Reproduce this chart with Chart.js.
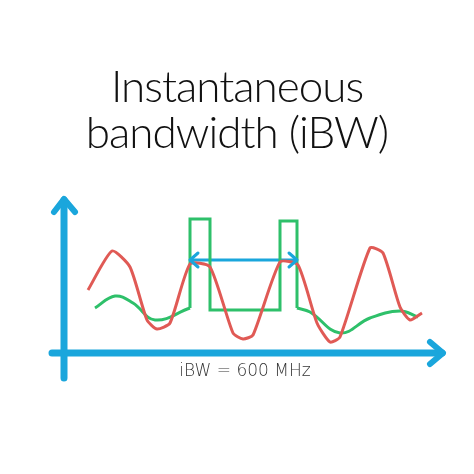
<!DOCTYPE html><html><head><script src="https://cdn.jsdelivr.net/npm/chart.js@4/dist/chart.umd.min.js"></script>
<style>body{margin:0;background:#fff;font-family:Lato,sans-serif}#w{position:relative;width:474px;height:474px}
.t{position:absolute;left:0;width:474px;text-align:center;color:#111;font-weight:300}
</style></head><body><div id="w"><canvas id="c" width="474" height="474"></canvas>
<div class="t" style="top:62px;font-size:44px;line-height:46px;letter-spacing:-1px">Instantaneous<br>bandwidth (iBW)</div>
<div class="t" style="top:360px;left:40px;width:410px;font-size:17px;color:#333;font-family:'DejaVu Sans'">iBW = 600 MHz</div></div>
<script>
const redX=[88,112,130,147,157,170,190,210,233,243,253,280,298,317,330,340,370,383,400,410,422];
const redY=[290,251,267,320,329,323,264,267,333,339,335,262,265,323,342,337,248,253,307,320,313];
const greenX=[95,115,133,155,190,190,210,210,280,280,297,297,310,340,370,400,418];
const greenY=[308,296,303,320,308,219,219,310,310,221,221,308,312,333,318,311,317];
const arrowX=[190,297], arrowY=[260,260];
const B=390;
const pts=(xs,ys,a=0,b=xs.length)=>xs.slice(a,b).map((x,i)=>({x,y:B-ys[a+i]}));
const axes={id:'ax',afterDatasetsDraw(ch){const c=ch.ctx,xs=ch.scales.x,ys=ch.scales.y;const X=v=>xs.getPixelForValue(v),Y=v=>ys.getPixelForValue(B-v);
c.save();c.strokeStyle='#1aa6dc';c.lineCap='round';c.lineJoin='round';c.lineWidth=7;
c.beginPath();c.moveTo(X(64),Y(378));c.lineTo(X(64),Y(200));c.moveTo(X(52),Y(353));c.lineTo(X(442),Y(353));c.stroke();
c.lineWidth=6;c.beginPath();c.moveTo(X(54),Y(212));c.lineTo(X(64),Y(199));c.lineTo(X(75),Y(212));
c.moveTo(X(430),Y(342));c.lineTo(X(443),Y(353));c.lineTo(X(430),Y(364));c.stroke();
c.lineWidth=3;c.beginPath();c.moveTo(X(arrowX[0]+8),Y(253));c.lineTo(X(arrowX[0]),Y(260));c.lineTo(X(arrowX[0]+8),Y(267));
c.moveTo(X(arrowX[1]-8),Y(253));c.lineTo(X(arrowX[1]),Y(260));c.lineTo(X(arrowX[1]-8),Y(267));c.stroke();c.restore();}};
const G='#2ec06a';
new Chart(document.getElementById('c'),{type:'line',data:{datasets:[
{data:pts(redX,redY),borderColor:'#e05a55',borderWidth:3,tension:0.2,pointRadius:0},
{data:pts(greenX,greenY,0,5),borderColor:G,borderWidth:3,tension:0.4,pointRadius:0},
{data:pts(greenX,greenY,4,12),borderColor:G,borderWidth:3,tension:0,pointRadius:0},
{data:pts(greenX,greenY,11),borderColor:G,borderWidth:3,tension:0.4,pointRadius:0},
{data:pts(arrowX,arrowY),borderColor:'#1aa6dc',borderWidth:3,pointRadius:0}]},
options:{responsive:false,animation:false,layout:{padding:{top:190,bottom:84,left:40,right:24}},
plugins:{legend:{display:false},tooltip:{enabled:false}},
scales:{x:{type:'linear',display:false,min:40,max:450},y:{display:false,min:0,max:200}}},plugins:[axes]});
</script></body></html>
